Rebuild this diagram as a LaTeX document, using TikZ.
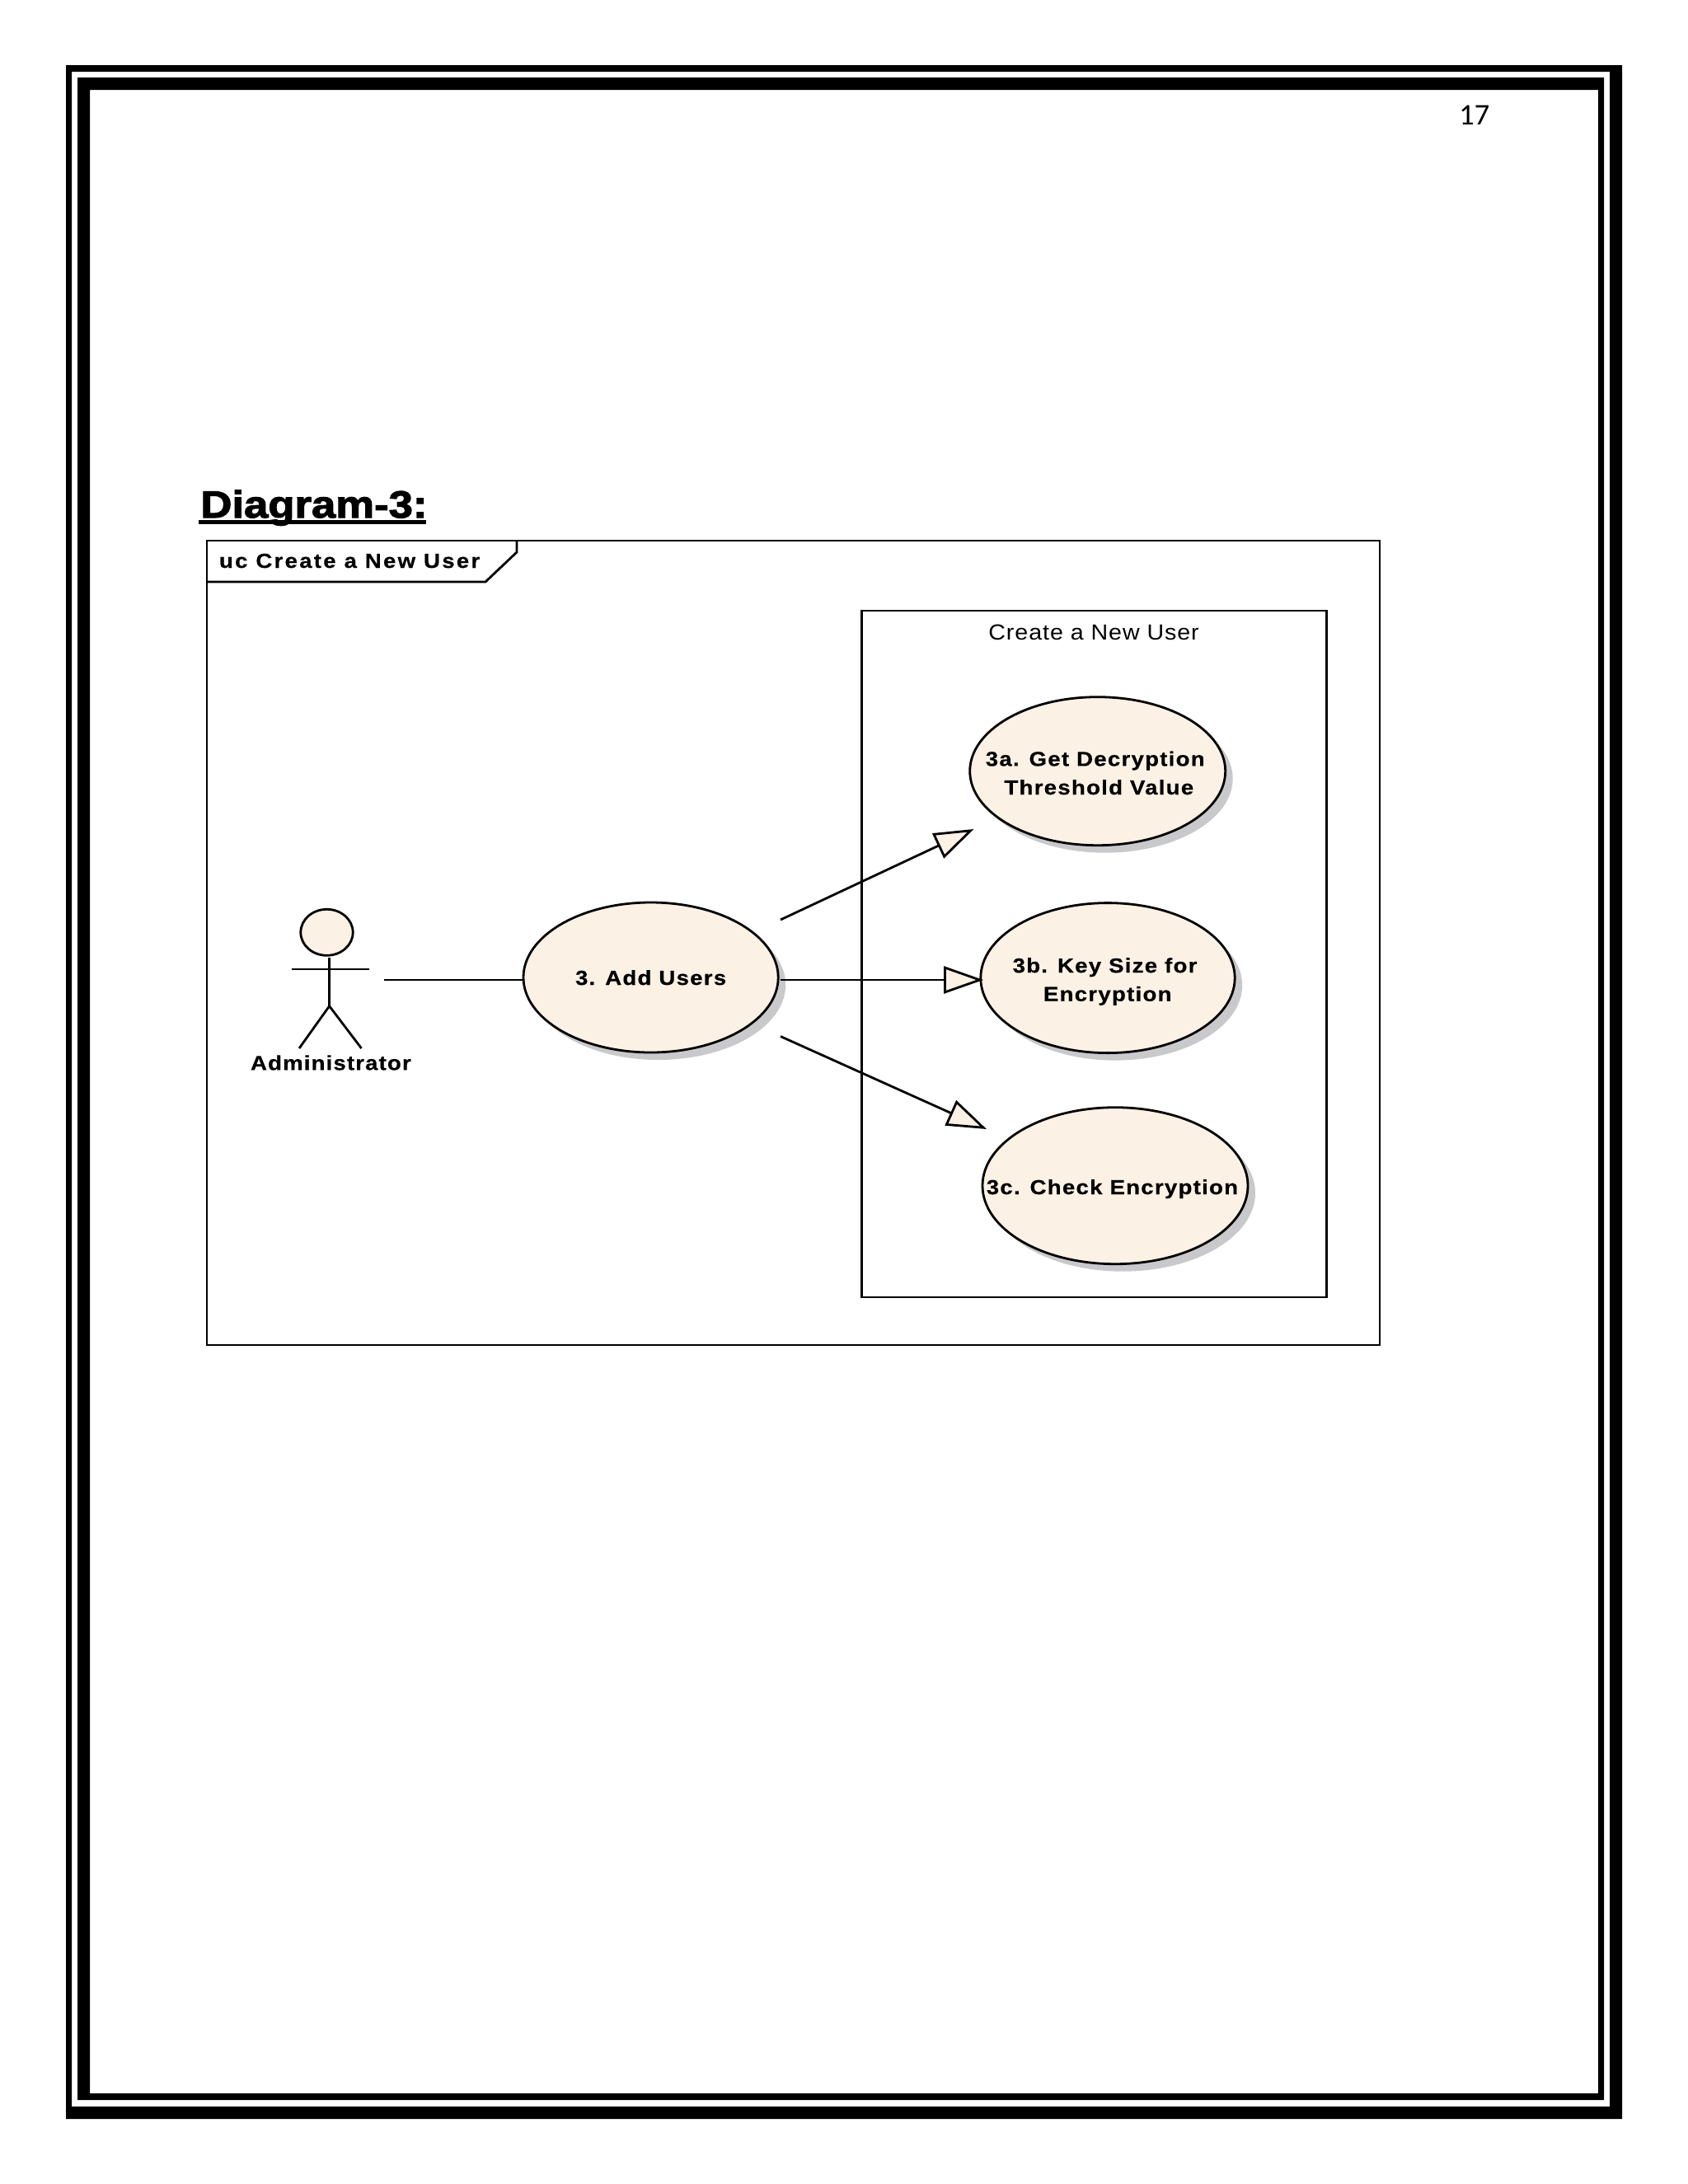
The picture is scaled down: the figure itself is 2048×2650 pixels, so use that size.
\documentclass[tikz,border=0pt]{standalone}
\usepackage{fontspec}
\setmainfont{Liberation Sans}
\newfontfamily\framefont[LetterSpace=9,FakeStretch=1.12,FakeBold=0.4]{Liberation Sans Bold}
\newfontfamily\actorfont[LetterSpace=4.5,FakeStretch=1.12,FakeBold=0.4]{Liberation Sans Bold}
\newfontfamily\casefont[LetterSpace=5,FakeStretch=1.12,FakeBold=0.4]{Liberation Sans Bold}
\newfontfamily\umlreg[LetterSpace=3.5,FakeStretch=1.08]{Liberation Sans}
\newfontfamily\titlefont[FakeStretch=1.145,FakeBold=2.5]{Liberation Sans Bold}
\newfontfamily\pagefont{Carlito}
\usetikzlibrary{shapes.geometric,arrows.meta,shadows}
\definecolor{cream}{HTML}{FBF1E4}
\definecolor{shade}{HTML}{C9C9CC}
\newcommand{\caseline}[3]{\raisebox{#2pt}[9pt][0pt]{\makebox[0pt][c]{\kern#1pt #3}}}
\tikzset{
  x=0.5pt,y=-0.5pt,
  umlline/.style={line width=1.4pt,draw=black,line cap=butt,line join=miter},
  boldlabel/.style={inner sep=0pt,outer sep=0pt,anchor=base west},
  usecase/.style={ellipse,draw=black,line width=1.4pt,fill=cream,inner sep=0pt,outer sep=0pt,align=center,
    font=\casefont\fontsize{12.35}{17.3}\selectfont,
    drop shadow={shadow xshift=4.5pt,shadow yshift=-4.5pt,fill=shade,opacity=1}},
  generalize/.style={umlline,-{Triangle[length=24pt,width=16.5pt,fill=cream]}},
}
\begin{document}
\begin{tikzpicture}
\useasboundingbox (0,0) rectangle (2048,2650);
% page borders
\fill[black,even odd rule] (80,79) rectangle (1968,2571) (87,87) rectangle (1953,2556);
\fill[black,even odd rule] (94,94) rectangle (1946,2548) (109,109) rectangle (1939,2540);
% page number
\node[inner sep=0pt,anchor=base west,font=\pagefont\fontsize{18.2}{20}\selectfont] (pagenum) at (1770,151.7) {17};
% title
\node[inner sep=0pt,anchor=base west,font=\titlefont\fontsize{23}{26}\selectfont] (title) at (243,628) {Diagram-3:};
\draw[line width=2.5pt] (241,633.5) -- (517,633.5);
% frame
\draw[umlline] (251,656) rectangle (1674,1632);
\draw[umlline] (251,706) -- (589,706) -- (627,670) -- (627,656);
\node[boldlabel,font=\framefont\fontsize{12.35}{17}\selectfont] (framelabel) at (266,689) {uc Create a New User};
% system boundary
\draw[umlline] (1045.7,741) rectangle (1609.3,1574);
\node[inner sep=0pt,anchor=base west,font=\umlreg\fontsize{13.25}{17}\selectfont] (boundary) at (1199,776.7) {Create a New User};
% use cases
\node[usecase,minimum width=154.6pt,minimum height=91pt] (uc3) at (789.6,1186) {\caseline{0}{0}{3. Add Users}};
\node[usecase,minimum width=155pt,minimum height=90pt] (uca) at (1331.7,935.7) {\caseline{-3}{-1}{3a. Get Decryption}\\\caseline{1.6}{-1}{Threshold Value}};
\node[usecase,minimum width=154.2pt,minimum height=91pt] (ucb) at (1344,1186.6) {\caseline{-3.5}{-0.9}{3b. Key Size for}\\\caseline{-0.3}{-0.9}{Encryption}};
\node[usecase,minimum width=161pt,minimum height=95pt] (ucc) at (1353,1438.7) {\caseline{-3.6}{-0.65}{3c. Check Encryption}};
% actor
\node[ellipse,draw=black,line width=1.4pt,fill=cream,inner sep=0pt,outer sep=0pt,minimum width=31.7pt,minimum height=28pt] (head) at (396.5,1131.3) {};
\coordinate (neck) at (399.6,1162);
\coordinate (hip) at (399.6,1220.7);
\coordinate (armL) at (353.7,1176);
\coordinate (armR) at (448,1176);
\coordinate (legL) at (363,1272);
\coordinate (legR) at (438.5,1272);
\draw[umlline] (neck) -- (hip);
\draw[umlline] (armL) -- (armR);
\draw[umlline] (legL) -- (hip) -- (legR);
\node[boldlabel,font=\actorfont\fontsize{12.35}{17}\selectfont] (actor) at (304,1298.3) {Administrator};
% connectors
\coordinate (assoc) at (466,1189);
\draw[umlline] (assoc) -- (assoc -| uc3.west);
\coordinate (fromA) at (947,1116);
\coordinate (fromB) at (947,1189);
\coordinate (fromC) at (947,1257.5);
\coordinate (toA) at (1181.5,1006);
\coordinate (toB) at (1193,1189);
\coordinate (toC) at (1197,1370);
\draw[generalize] (fromA) -- (toA);
\draw[generalize] (fromB) -- (toB);
\draw[generalize] (fromC) -- (toC);
\end{tikzpicture}
\end{document}
